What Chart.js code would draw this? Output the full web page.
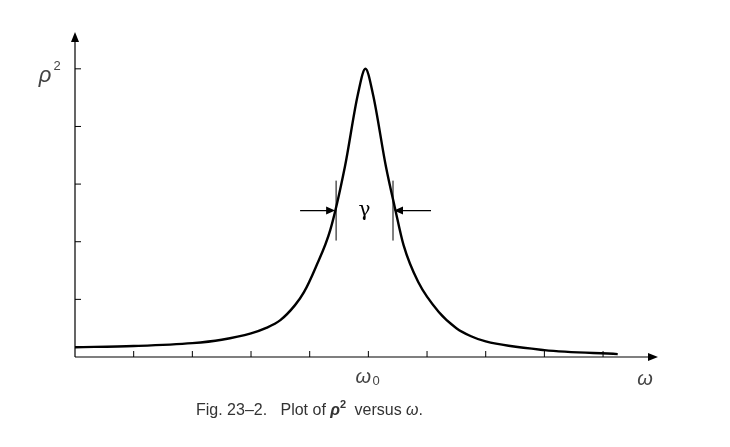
<!DOCTYPE html>
<html><head><meta charset="utf-8">
<script src="https://cdn.jsdelivr.net/npm/chart.js@4"></script>
<style>body{margin:0;background:#fff}#wrap{width:730px;height:447px;position:relative}</style>
</head><body><div id="wrap"><canvas id="c"></canvas></div>
<script>
// curve (omega in tick units, rho^2 in tick units)
const omega = [0, 1, 2, 2.5, 3, 3.25, 3.5, 3.75, 3.9, 4.1, 4.35, 4.6, 4.82, 4.95, 5.08, 5.3, 5.45, 5.6, 5.85, 6.2, 6.5, 6.75, 7, 8, 9.25];
const rho2 = [0.17, 0.19, 0.24, 0.3, 0.41, 0.5, 0.64, 0.9, 1.12, 1.55, 2.2, 3.3, 4.55, 5.0, 4.55, 3.3, 2.6, 1.94, 1.3, 0.78, 0.5, 0.36, 0.27, 0.12, 0.05];
const xTicks = [1, 2, 3, 4, 5, 6, 7, 8, 9];
const yTicks = [1, 2, 3, 4, 5];
const gammaEdges = [4.45, 5.42];

const axes = {
  id: 'axes',
  afterDraw(chart) {
    const c = chart.ctx, x = chart.scales.x, y = chart.scales.y;
    const x0 = x.getPixelForValue(0), y0 = y.getPixelForValue(0);
    const xe = x.getPixelForValue(9.8), ye = y.getPixelForValue(5.5);
    c.save();
    c.strokeStyle = '#000'; c.fillStyle = '#000'; c.lineWidth = 1.2;
    c.beginPath(); c.moveTo(x0, y0); c.lineTo(xe, y0); c.moveTo(x0, y0); c.lineTo(x0, ye); c.stroke();
    c.beginPath(); c.moveTo(xe + 8, y0); c.lineTo(xe - 2, y0 - 4); c.lineTo(xe - 2, y0 + 4); c.fill();
    c.beginPath(); c.moveTo(x0, ye - 8); c.lineTo(x0 - 4, ye + 2); c.lineTo(x0 + 4, ye + 2); c.fill();
    c.lineWidth = 1;
    xTicks.forEach(t => { const p = x.getPixelForValue(t); c.beginPath(); c.moveTo(p, y0); c.lineTo(p, y0 - 6); c.stroke(); });
    yTicks.forEach(t => { const p = y.getPixelForValue(t); c.beginPath(); c.moveTo(x0, p); c.lineTo(x0 + 6, p); c.stroke(); });
    // gamma markers
    const yt = y.getPixelForValue(3.06), yb = y.getPixelForValue(2.02), ym = y.getPixelForValue(2.54);
    gammaEdges.forEach(g => { const p = x.getPixelForValue(g); c.beginPath(); c.moveTo(p, yt); c.lineTo(p, yb); c.stroke(); });
    const l = x.getPixelForValue(gammaEdges[0]), r = x.getPixelForValue(gammaEdges[1]);
    c.lineWidth = 1.2;
    c.beginPath(); c.moveTo(l - 36, ym); c.lineTo(l - 4, ym); c.moveTo(r + 38, ym); c.lineTo(r + 4, ym); c.stroke();
    c.beginPath(); c.moveTo(l - 1, ym); c.lineTo(l - 10, ym - 4); c.lineTo(l - 10, ym + 4); c.fill();
    c.beginPath(); c.moveTo(r + 1, ym); c.lineTo(r + 10, ym - 4); c.lineTo(r + 10, ym + 4); c.fill();
    c.textAlign = 'center'; c.textBaseline = 'middle';
    c.font = '20px "DejaVu Serif"';
    c.fillText('γ', (l + r) / 2, ym);
    c.fillStyle = '#444';
    c.font = 'italic 20px "Liberation Sans"';
    c.fillText('ω', x.getPixelForValue(4.98) - 4, y0 + 20);
    c.font = '13px "Liberation Sans"';
    c.fillText('0', x.getPixelForValue(4.98) + 9, y0 + 24);
    c.font = 'italic 20px "Liberation Sans"';
    c.fillText('ω', xe - 5, y0 + 22);
    c.font = 'italic 22px "Liberation Sans"';
    c.fillText('ρ', 45, 76);
    c.font = '13px "Liberation Sans"';
    c.fillText('2', 57, 66);
    // caption
    c.fillStyle = '#333'; c.textAlign = 'left';
    let cx = 196; const cy = 411;
    const part = (t, f) => { c.font = f; c.fillText(t, cx, cy); cx += c.measureText(t).width; };
    part('Fig. 23–2.   Plot of ', '16px "Liberation Sans"');
    part('ρ', 'bold italic 16px "Liberation Sans"');
    c.font = 'bold 11px "Liberation Sans"'; c.fillText('2', cx, cy - 6); cx += c.measureText('2').width + 4;
    part(' versus ', '16px "Liberation Sans"');
    part('ω', 'italic 16px "Liberation Sans"');
    part('.', '16px "Liberation Sans"');
    c.restore();
  }
};

new Chart(document.getElementById('c'), {
  type: 'line',
  data: { datasets: [{ data: omega.map((w, i) => ({ x: w, y: rho2[i] })), borderColor: '#000', borderWidth: 2.4, pointRadius: 0, cubicInterpolationMode: 'monotone', fill: false }] },
  options: {
    responsive: true, maintainAspectRatio: false, animation: false,
    layout: { padding: { left: 75, right: 80, top: 40, bottom: 90 } },
    plugins: { legend: { display: false }, tooltip: { enabled: false } },
    scales: {
      x: { type: 'linear', min: 0, max: 9.8, display: false },
      y: { min: 0, max: 5.5, display: false }
    }
  },
  plugins: [axes]
});
</script></body></html>
